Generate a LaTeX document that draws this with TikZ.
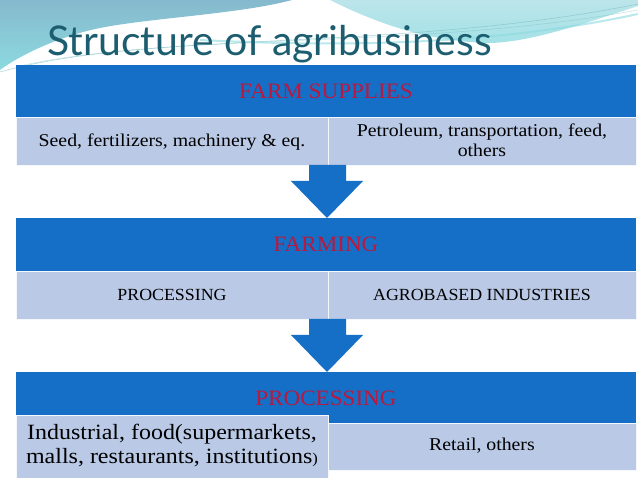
\documentclass[tikz,border=0pt]{standalone}
\usepackage{fontspec}
\setmainfont{Liberation Serif}
\newfontfamily\cellfont[FakeStretch=1.1]{Liberation Serif}
\newfontfamily\capsfont[FakeStretch=1.05]{Liberation Serif}
\newfontfamily\titlefont{Lato}
\definecolor{barblue}{HTML}{166FC6}
\definecolor{cellblue}{HTML}{B9C9E6}
\definecolor{hdrred}{HTML}{B8193F}
\definecolor{titleteal}{HTML}{1C5E70}
\definecolor{tealtop}{HTML}{86B9CD}
\definecolor{tealcyan}{HTML}{8CDAE0}
\definecolor{lightcyan}{HTML}{BCE5EA}
\begin{document}
\begin{tikzpicture}[x=1pt,y=-1pt,
  bar/.style={fill=barblue,draw=none},
  cell/.style={fill=cellblue,draw=white!85!cellblue,line width=0.8pt},
  arrowshape/.style={fill=barblue,draw=none},
  hdr/.style={text=hdrred,font=\capsfont\fontsize{22}{24}\selectfont,inner sep=0pt},
  celltext/.style={text=black,font=\cellfont\fontsize{18}{20}\selectfont,align=center,inner sep=0pt},
  capstext/.style={text=black,font=\capsfont\fontsize{17}{20}\selectfont,inner sep=0pt},
  bigtext/.style={text=black,font=\cellfont\fontsize{21.8}{24}\selectfont,align=center,inner sep=0pt}]
\useasboundingbox (0,0) rectangle (638,478);
\fill[white] (0,0) rectangle (638,478);
% decorative swoosh
\shade[top color=tealtop,bottom color=tealcyan] (0,0) -- (292,0) .. controls (240,14) and (150,18) .. (100,28) .. controls (60,36) and (20,55) .. (0,70) -- cycle;
\shade[top color=lightcyan,bottom color=tealcyan!80!white] (330,0) -- (638,0) -- (638,6) .. controls (580,25) and (530,42) .. (490,43) .. controls (440,42) and (390,30) .. (330,0) -- cycle;
\draw[tealcyan!70!titleteal,opacity=0.5,line width=0.6pt] (0,72) .. controls (150,30) and (400,52) .. (638,4);
\draw[tealcyan!70!titleteal,opacity=0.4,line width=0.5pt] (20,66) .. controls (170,32) and (420,50) .. (638,10);
\draw[tealcyan,opacity=0.6,line width=2pt] (200,40) .. controls (320,46) and (480,48) .. (638,14);
% title
\node[anchor=base west,inner sep=0pt,text=titleteal,font=\titlefont\fontsize{41}{44}\selectfont] (title) at (47,56) {Structure of agribusiness};
% block 1
\path[bar] (16,65) rectangle (636,117);
\node[hdr] (farmsupplies) at (326,91) {FARM SUPPLIES};
\path[cell] (16,117) rectangle (328,165);
\path[cell] (328,117) rectangle (636,165);
\node[celltext] (seed) at (172,142) {Seed, fertilizers, machinery \& eq.};
\node[celltext] (petrol) at (482,140) {Petroleum, transportation, feed,\\others};
% arrow 1
\path[arrowshape] (309,165) -- (346,165) -- (346,181) -- (363,181) -- (327,218) -- (291,181) -- (309,181) -- cycle;
% block 2
\path[bar] (16,218) rectangle (636,271);
\node[hdr] (farming) at (326,244) {FARMING};
\path[cell] (16,271) rectangle (328,319);
\path[cell] (328,271) rectangle (636,319);
\node[capstext] (proc1) at (172,295) {PROCESSING};
\node[capstext] (agro) at (482,295) {AGROBASED INDUSTRIES};
% arrow 2
\path[arrowshape] (309,319) -- (346,319) -- (346,335) -- (363,335) -- (327,372) -- (291,335) -- (309,335) -- cycle;
% block 3
\path[bar] (16,372) rectangle (636,423);
\node[hdr] (proc2) at (326,398) {PROCESSING};
\path[cell] (328,423) rectangle (636,470);
\path[cell] (16,415) rectangle (328,478);
\node[bigtext] (industrial) at (172,446) {Industrial, food(supermarkets,\\malls, restaurants, institutions{\fontsize{15}{16}\selectfont)}};
\node[celltext] (retail) at (482,446) {Retail, others};
\end{tikzpicture}
\end{document}
